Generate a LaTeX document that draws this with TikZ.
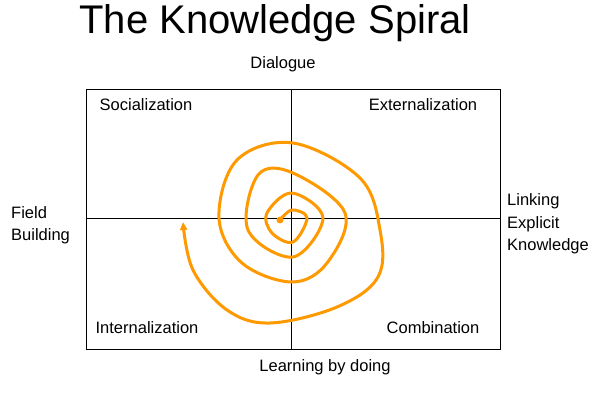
\documentclass[tikz,border=0pt]{standalone}
\usepackage{fontspec}
\setmainfont{Liberation Sans}
\usetikzlibrary{arrows.meta}
\definecolor{sporange}{RGB}{255,153,0}
\begin{document}
\begin{tikzpicture}[x=1pt,y=-1pt,
  lbl/.style={font=\fontsize{16.5}{18}\selectfont, inner sep=0pt},
  spiral/.style={draw=sporange, line width=3pt, line cap=round, line join=round}]
\useasboundingbox (0,0) rectangle (600,403);
\node[font=\fontsize{40}{44}\selectfont, inner sep=0pt] (title) at (275,23) {The Knowledge Spiral};
\draw[line width=1pt] (86,90) rectangle (500,350);
\coordinate (t) at (291,90); \coordinate (b) at (291,350);
\coordinate (l) at (86,219); \coordinate (r) at (500,219);
\draw[line width=1pt] (t) -- (b) (l) -- (r);
\node[lbl] (dl) at (283,64) {Dialogue};
\node[lbl] (so) at (146,105) {Socialization};
\node[lbl] (ex) at (423,105) {Externalization};
\node[lbl] (in) at (147,328) {Internalization};
\node[lbl] (co) at (433,328) {Combination};
\node[lbl] (lb) at (325,367) {Learning by doing};
\node[lbl, anchor=west, align=left, font=\fontsize{16.5}{22}\selectfont] (fb) at (11,225) {Field\\Building};
\node[lbl, anchor=west, align=left, font=\fontsize{16.5}{22.5}\selectfont] (le) at (507,224) {Linking\\Explicit\\Knowledge};
\fill[sporange] (280,220) circle (3.5);
\draw[spiral, -{Triangle[length=8pt,width=7pt]}] plot[smooth, tension=0.6] coordinates {
(280,220) (292,210) (307,218) (293,242) (272,233) (267,213) (292,193) (323,218)
(293,257) (248,230) (258,175) (293,173) (345,213) (327,263) (292,282) (242,263)
(219,218) (237,160) (293,143) (360,178) (380,230) (378,277) (337,307) (270,323)
(227,310) (193,270) (183,222)};
\end{tikzpicture}
\end{document}
